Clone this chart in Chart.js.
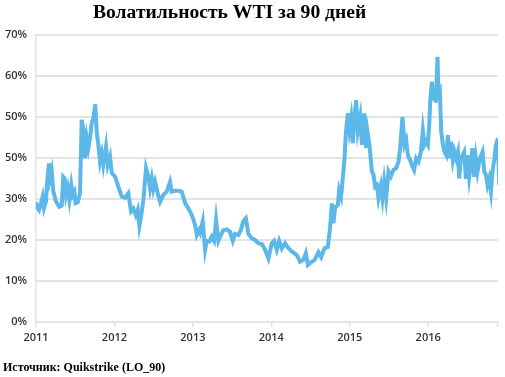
<!DOCTYPE html>
<html>
<head>
<meta charset="utf-8">
<script src="https://cdn.jsdelivr.net/npm/chart.js@4/dist/chart.umd.min.js"></script>
<style>
  html, body { margin: 0; padding: 0; background: #fff; }
  #wrap { position: relative; width: 505px; height: 377px; }
  #title { position: absolute; left: 93px; top: 1px; font: bold 19.6px "Liberation Serif", serif; color: #000; white-space: nowrap; }
  #source { position: absolute; left: 3px; top: 360px; font: bold 12px "Liberation Serif", serif; color: #000; white-space: nowrap; }
  canvas { position: absolute; left: 0; top: 0; }
</style>
</head>
<body>
<div id="wrap">
  <canvas id="Chart_WTI_Volatility" width="505" height="377"></canvas>
  <div id="title">Волатильность WTI за 90 дней</div>
  <div id="source">Источник: Quikstrike (LO_90)</div>
</div>
<script>
// decimal years and 90-day volatility, %
var years = [
  2011.000, 2011.013, 2011.038, 2011.057, 2011.085, 2011.102, 2011.128, 2011.144, 2011.166, 2011.179,
  2011.200, 2011.221, 2011.255, 2011.297, 2011.328, 2011.348, 2011.366, 2011.383, 2011.404, 2011.425,
  2011.450, 2011.468, 2011.489, 2011.506, 2011.532, 2011.561, 2011.583, 2011.603, 2011.625, 2011.647,
  2011.667, 2011.689, 2011.710, 2011.731, 2011.756, 2011.774, 2011.795, 2011.816, 2011.838, 2011.858,
  2011.893, 2011.915, 2011.944, 2011.966, 2012.008, 2012.050, 2012.093, 2012.135, 2012.177, 2012.212,
  2012.241, 2012.272, 2012.297, 2012.318, 2012.339, 2012.369, 2012.403, 2012.432, 2012.454, 2012.476,
  2012.496, 2012.518, 2012.552, 2012.582, 2012.624, 2012.667, 2012.709, 2012.731, 2012.773, 2012.815,
  2012.858, 2012.901, 2012.943, 2012.986, 2013.028, 2013.050, 2013.079, 2013.092, 2013.126, 2013.156,
  2013.177, 2013.211, 2013.241, 2013.270, 2013.296, 2013.325, 2013.356, 2013.389, 2013.432, 2013.474,
  2013.509, 2013.538, 2013.580, 2013.611, 2013.644, 2013.675, 2013.708, 2013.751, 2013.793, 2013.835,
  2013.879, 2013.921, 2013.963, 2014.006, 2014.036, 2014.070, 2014.100, 2014.134, 2014.176, 2014.218,
  2014.261, 2014.325, 2014.367, 2014.409, 2014.440, 2014.466, 2014.508, 2014.550, 2014.601, 2014.635,
  2014.677, 2014.721, 2014.750, 2014.772, 2014.792, 2014.814, 2014.848, 2014.865, 2014.890, 2014.907,
  2014.932, 2014.950, 2014.976, 2014.996, 2015.018, 2015.040, 2015.060, 2015.082, 2015.103, 2015.133,
  2015.154, 2015.184, 2015.209, 2015.226, 2015.251, 2015.282, 2015.302, 2015.324, 2015.346, 2015.366,
  2015.397, 2015.417, 2015.439, 2015.464, 2015.494, 2015.524, 2015.557, 2015.592, 2015.621, 2015.643,
  2015.672, 2015.698, 2015.719, 2015.741, 2015.770, 2015.792, 2015.821, 2015.847, 2015.876, 2015.907,
  2015.932, 2015.953, 2015.974, 2015.996, 2016.013, 2016.026, 2016.047, 2016.068, 2016.085, 2016.098,
  2016.119, 2016.131, 2016.149, 2016.166, 2016.188, 2016.208, 2016.230, 2016.251, 2016.272, 2016.293,
  2016.315, 2016.335, 2016.357, 2016.379, 2016.395, 2016.417, 2016.438, 2016.459, 2016.481, 2016.501,
  2016.523, 2016.545, 2016.565, 2016.587, 2016.608, 2016.629, 2016.654, 2016.676, 2016.693, 2016.714,
  2016.736, 2016.756, 2016.778, 2016.800, 2016.820, 2016.842, 2016.864, 2016.876, 2016.889, 2016.906
];
var volatility = [
  29.2, 28.0, 27.3, 28.5, 30.6, 27.8, 29.5, 34.6, 38.7, 35.0,
  36.8, 31.8, 29.4, 28.1, 28.4, 35.4, 35.0, 31.0, 32.7, 29.8,
  33.4, 31.0, 31.8, 29.0, 29.2, 31.4, 49.3, 47.0, 39.9, 44.8,
  42.4, 44.8, 48.5, 49.7, 53.1, 46.4, 43.2, 39.1, 41.1, 38.3,
  42.8, 38.3, 40.3, 36.3, 35.5, 33.0, 30.6, 30.3, 31.4, 27.0,
  27.7, 26.1, 27.4, 23.4, 25.7, 29.8, 37.5, 35.5, 32.6, 35.0,
  32.4, 34.2, 31.4, 29.3, 31.0, 31.8, 34.2, 31.8, 32.0, 32.0,
  31.8, 29.0, 27.7, 26.1, 23.7, 21.2, 22.4, 21.8, 24.6, 17.6,
  19.8, 19.6, 20.8, 19.8, 24.9, 19.8, 21.2, 22.4, 22.6, 22.0,
  19.8, 21.5, 21.2, 22.4, 24.6, 25.3, 21.5, 20.4, 20.0, 19.2,
  19.0, 17.6, 15.5, 19.2, 19.8, 17.6, 19.8, 17.9, 19.2, 18.0,
  17.2, 16.3, 14.7, 15.2, 16.8, 13.9, 14.6, 15.1, 17.0, 15.8,
  18.0, 18.3, 23.2, 28.9, 24.1, 28.0, 28.5, 32.2, 30.6, 34.2,
  39.5, 46.0, 50.9, 46.8, 49.7, 43.6, 49.7, 54.1, 46.7, 50.0,
  43.2, 50.9, 42.4, 46.4, 43.2, 36.7, 36.0, 33.0, 33.4, 30.2,
  33.2, 30.2, 34.2, 30.2, 36.7, 35.5, 37.1, 37.5, 39.1, 42.4,
  50.0, 43.3, 44.4, 40.7, 39.5, 38.3, 37.1, 39.9, 39.1, 41.5,
  46.8, 43.2, 44.0, 43.2, 48.0, 53.7, 58.6, 54.0, 57.0, 53.5,
  64.7, 55.4, 56.2, 46.4, 43.2, 41.5, 40.7, 45.6, 39.9, 44.0,
  39.5, 41.5, 39.9, 41.5, 35.0, 39.9, 40.7, 41.5, 34.9, 40.7,
  35.4, 38.7, 42.4, 35.4, 39.9, 36.7, 39.5, 40.7, 41.5, 36.7,
  35.9, 33.4, 35.0, 31.8, 36.7, 39.5, 43.2, 44.0, 43.6, 33.4
];
// y tick labels as printed on the original (the 40% line reads "50%")
var yTickLabels = ['0%', '10%', '20%', '30%', '50%', '50%', '60%', '70%'];

var points = years.map(function (y, i) { return { x: y, y: volatility[i] }; });

var ctx = document.getElementById('Chart_WTI_Volatility').getContext('2d');
var tickFont = { family: '"Open Sans", sans-serif', size: 11, weight: '600' };
var gridColor = '#e3e3e3';

new Chart(ctx, {
  type: 'line',
  data: {
    datasets: [{
      data: points,
      borderColor: '#5cb8e9',
      borderWidth: 4,
      pointRadius: 0,
      tension: 0,
      fill: false
    }]
  },
  options: {
    responsive: false,
    animation: false,
    layout: { padding: { top: 35, right: 7, bottom: 0, left: 0 } },
    plugins: {
      legend: { display: false },
      tooltip: { enabled: false }
    },
    scales: {
      x: {
        type: 'linear',
        min: 2011,
        max: 2016.89,
        afterFit: function (scale) { scale.height = 55; },
        ticks: {
          stepSize: 1,
          autoSkip: false,
          padding: 4,
          color: '#333',
          font: tickFont,
          callback: function (v) { return Number.isInteger(v) ? String(v) : ''; }
        },
        grid: { drawOnChartArea: false, drawTicks: true, tickLength: 5, color: gridColor, lineWidth: 1.5 },
        border: { display: true, color: gridColor, width: 1.5 }
      },
      y: {
        min: 0,
        max: 70,
        afterFit: function (scale) { scale.width = 36; },
        ticks: {
          stepSize: 10,
          padding: 9,
          color: '#333',
          font: tickFont,
          callback: function (v) { return yTickLabels[Math.round(v / 10)]; }
        },
        grid: { color: gridColor, lineWidth: 2, drawTicks: false },
        border: { display: true, color: gridColor, width: 1.5 }
      }
    }
  }
});
</script>
</body>
</html>
